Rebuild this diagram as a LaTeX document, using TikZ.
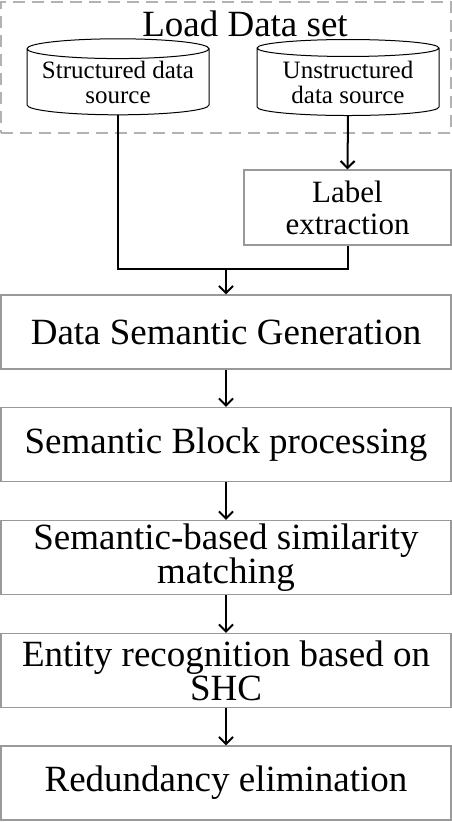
\documentclass[tikz,border=0pt]{standalone}
\usepackage{fontspec}
\setmainfont{Liberation Serif}
\usetikzlibrary{shapes.geometric,arrows.meta}
\begin{document}
\begin{tikzpicture}[x=1pt,y=-1pt,>={Straight Barb[length=7pt,width=14pt]},
		stagebox/.style={draw=gray!80,line width=1.3pt,minimum width=450pt,minimum height=74pt,inner sep=0pt,align=center,font=\fontsize{37}{34}\selectfont},
		datasource/.style={cylinder,shape border rotate=90,aspect=0.13,draw,line width=1pt,minimum width=182pt,minimum height=76pt,inner sep=0pt,align=center,font=\fontsize{25}{25}\selectfont},
		link/.style={->,line width=2pt}]
		\useasboundingbox (0,0) rectangle (452,822);
		% load data set
		\node[draw=gray!60,line width=1.3pt,dash pattern=on 12pt off 7pt,minimum width=450pt,minimum height=131pt] (loadset) at (226,67.5) {};
		\node[font=\fontsize{37}{34}\selectfont] (title) at (245,24) {Load Data set};
		\node[datasource] (sd) at (118,82) {Structured data\\source};
		\node[datasource] (ud) at (348,82) {Unstructured\\data source};
		\node[draw=gray!80,line width=1.2pt,minimum width=207pt,minimum height=75pt,inner sep=0pt,align=center,font=\fontsize{31}{32}\selectfont] (lab) at (347.5,207.5) {Label\\extraction};
		% stages
		\node[stagebox] (gen) at (226,332) {Data Semantic Generation};
		\node[stagebox] (blk) at (226,444.5) {Semantic Block processing};
		\node[stagebox] (sim) at (226,557.5) {Semantic-based similarity\\matching};
		\node[stagebox] (shc) at (226,670.5) {Entity recognition based on\\SHC};
		\node[stagebox] (red) at (226,783) {Redundancy elimination};
		\coordinate (merge) at (226,269);
		\draw[link] (ud.south) -- (lab.north);
		\draw[line width=2pt] (sd.south) |- (merge) -| (lab.south);
		\draw[link] (merge) -- (gen.north);
		\draw[link] (gen) -- (blk);
		\draw[link] (blk) -- (sim);
		\draw[link] (sim) -- (shc);
		\draw[link] (shc) -- (red);
	\end{tikzpicture}
\end{document}
